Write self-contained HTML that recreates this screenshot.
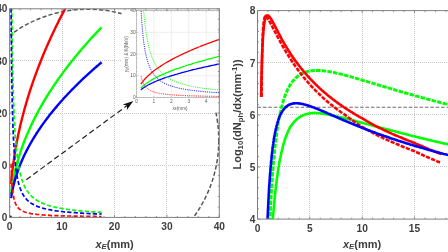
<!DOCTYPE html>
<html><head><meta charset="utf-8"><title>plot</title>
<style>html,body{margin:0;padding:0;background:#fff;overflow:hidden}svg{display:block}</style>
</head><body>
<svg width="448" height="252" viewBox="0 0 448 252">
<clipPath id="cl"><rect x="9.6" y="8.8" width="209.7" height="208.6"/></clipPath>
<path d="M62.5 9V217.4M10 165.5H219.3M114.5 9V217.4M10 113.5H219.3M166.5 9V217.4M10 60.5H219.3" stroke="#c8c8c8" stroke-width="1" stroke-dasharray="1 1" fill="none"/>
<g clip-path="url(#cl)" fill="none">
<circle cx="88" cy="140" r="130.8" stroke="#555" stroke-width="1.5" stroke-dasharray="4.2 2.2"/>
<path d="M11 184.1 L11.1 182.6 L11.3 181.1 L11.4 179.7 L11.5 178.3 L11.7 177 L11.8 175.8 L11.9 174.6 L12.1 173.4 L12.2 172.2 L12.3 171.1 L12.5 170 L12.6 168.9 L12.7 167.8 L12.9 166.8 L13 165.8 L13.1 164.8 L13.3 163.8 L13.4 162.9 L13.5 161.9 L13.7 161 L13.8 160.1 L13.9 159.2 L14.1 158.3 L14.2 157.4 L14.3 156.6 L14.4 155.7 L14.6 154.9 L14.7 154.1 L14.8 153.3 L15.9 146.9 L17 141 L18.1 135.5 L19.2 130.4 L20.3 125.6 L21.4 121 L22.5 116.7 L23.6 112.5 L24.7 108.4 L25.8 104.6 L26.9 100.8 L28 97.2 L29.1 93.6 L30.2 90.2 L31.3 86.8 L32.4 83.6 L33.5 80.4 L34.6 77.3 L35.7 74.3 L36.8 71.3 L37.9 68.4 L39 65.5 L40.1 62.7 L41.2 59.9 L42.3 57.2 L43.4 54.5 L44.5 51.9 L45.6 49.3 L46.7 46.8 L47.8 44.3 L48.9 41.8 L50 39.4 L51.1 37 L52.2 34.6 L53.3 32.2 L54.4 29.9 L55.5 27.6 L56.6 25.4 L57.7 23.2 L58.8 20.9 L59.9 18.8 L61 16.6 L62.1 14.5 L63.2 12.4 L64.3 10.3 L65.4 8.2 L66.5 6.1 L67.6 4.1 L68.7 2.1 L69.8 0.1 L70.9 -1.9 L72 -3.8 L73.1 -5.8 L74.2 -7.7 L75.3 -9.6 L76.4 -11.5 L77.5 -13.4 L78.5 -15.2 L79.6 -17.1 L80.7 -18.9 L81.8 -20.7 L82.9 -22.5 L84 -24.3 L85.1 -26.1 L86.2 -27.8 L87.3 -29.6 L88.4 -31.3 L89.5 -33.1 L90.6 -34.8 L91.7 -36.5 L92.8 -38.2 L93.9 -39.8 L95 -41.5 L96.1 -43.2 L97.2 -44.8 L98.3 -46.5 L99.4 -48.1 L100.5 -49.7 L101.6 -51.3" stroke="#ff0000" stroke-width="2.4" stroke-linecap="butt"/>
<path d="M11 193.8 L11.1 192.8 L11.3 191.7 L11.4 190.7 L11.5 189.8 L11.7 188.9 L11.8 188 L11.9 187.1 L12.1 186.2 L12.2 185.4 L12.3 184.6 L12.5 183.8 L12.6 183.1 L12.7 182.3 L12.9 181.6 L13 180.9 L13.1 180.2 L13.3 179.5 L13.4 178.8 L13.5 178.2 L13.7 177.5 L13.8 176.9 L13.9 176.2 L14.1 175.6 L14.2 175 L14.3 174.4 L14.4 173.8 L14.6 173.2 L14.7 172.6 L14.8 172 L15.9 167.5 L17 163.4 L18.1 159.5 L19.2 155.9 L20.3 152.5 L21.4 149.2 L22.5 146.1 L23.6 143.2 L24.7 140.3 L25.8 137.6 L26.9 134.9 L28 132.4 L29.1 129.9 L30.2 127.4 L31.3 125.1 L32.4 122.8 L33.5 120.5 L34.6 118.3 L35.7 116.1 L36.8 114 L37.9 112 L39 109.9 L40.1 108 L41.2 106 L42.3 104.1 L43.4 102.2 L44.5 100.3 L45.6 98.5 L46.7 96.7 L47.8 94.9 L48.9 93.2 L50 91.5 L51.1 89.8 L52.2 88.1 L53.3 86.4 L54.4 84.8 L55.5 83.2 L56.6 81.6 L57.7 80 L58.8 78.4 L59.9 76.9 L61 75.4 L62.1 73.9 L63.2 72.4 L64.3 70.9 L65.4 69.4 L66.5 68 L67.6 66.5 L68.7 65.1 L69.8 63.7 L70.9 62.3 L72 60.9 L73.1 59.6 L74.2 58.2 L75.3 56.8 L76.4 55.5 L77.5 54.2 L78.5 52.9 L79.6 51.6 L80.7 50.3 L81.8 49 L82.9 47.7 L84 46.4 L85.1 45.2 L86.2 43.9 L87.3 42.7 L88.4 41.5 L89.5 40.2 L90.6 39 L91.7 37.8 L92.8 36.6 L93.9 35.4 L95 34.3 L96.1 33.1 L97.2 31.9 L98.3 30.8 L99.4 29.6 L100.5 28.5 L101.6 27.3" stroke="#00ff00" stroke-width="2.4" stroke-linecap="butt"/>
<path d="M11 198.2 L11.1 197.3 L11.3 196.4 L11.4 195.6 L11.5 194.9 L11.7 194.1 L11.8 193.4 L11.9 192.7 L12.1 192 L12.2 191.3 L12.3 190.7 L12.5 190 L12.6 189.4 L12.7 188.8 L12.9 188.2 L13 187.6 L13.1 187 L13.3 186.5 L13.4 185.9 L13.5 185.4 L13.7 184.8 L13.8 184.3 L13.9 183.8 L14.1 183.3 L14.2 182.8 L14.3 182.3 L14.4 181.8 L14.6 181.3 L14.7 180.8 L14.8 180.4 L15.9 176.7 L17 173.3 L18.1 170.1 L19.2 167.2 L20.3 164.4 L21.4 161.8 L22.5 159.3 L23.6 156.8 L24.7 154.5 L25.8 152.3 L26.9 150.1 L28 148 L29.1 146 L30.2 144 L31.3 142 L32.4 140.2 L33.5 138.3 L34.6 136.5 L35.7 134.8 L36.8 133 L37.9 131.4 L39 129.7 L40.1 128.1 L41.2 126.5 L42.3 124.9 L43.4 123.4 L44.5 121.9 L45.6 120.4 L46.7 118.9 L47.8 117.5 L48.9 116 L50 114.6 L51.1 113.2 L52.2 111.9 L53.3 110.5 L54.4 109.2 L55.5 107.9 L56.6 106.6 L57.7 105.3 L58.8 104 L59.9 102.7 L61 101.5 L62.1 100.3 L63.2 99 L64.3 97.8 L65.4 96.6 L66.5 95.5 L67.6 94.3 L68.7 93.1 L69.8 92 L70.9 90.8 L72 89.7 L73.1 88.6 L74.2 87.5 L75.3 86.4 L76.4 85.3 L77.5 84.2 L78.5 83.1 L79.6 82.1 L80.7 81 L81.8 80 L82.9 78.9 L84 77.9 L85.1 76.9 L86.2 75.8 L87.3 74.8 L88.4 73.8 L89.5 72.8 L90.6 71.8 L91.7 70.9 L92.8 69.9 L93.9 68.9 L95 67.9 L96.1 67 L97.2 66 L98.3 65.1 L99.4 64.1 L100.5 63.2 L101.6 62.3" stroke="#0000ff" stroke-width="2.4" stroke-linecap="butt"/>
<path d="M11.1 163.7 L11.2 167.6 L11.4 170.9 L11.5 173.9 L11.6 176.5 L11.7 178.8 L11.8 180.8 L12 182.7 L12.1 184.4 L12.2 185.9 L12.3 187.3 L12.4 188.5 L12.6 189.7 L12.7 190.8 L12.8 191.8 L12.9 192.7 L13 193.5 L13.2 194.3 L13.3 195.1 L13.4 195.8 L13.5 196.5 L13.6 197.1 L13.8 197.7 L13.9 198.2 L14 198.7 L14.1 199.2 L14.2 199.7 L14.4 200.1 L14.5 200.6 L14.6 201 L14.7 201.3 L14.8 201.7 L14.9 202.1 L15.1 202.4 L15.2 202.7 L15.3 203 L15.4 203.3 L15.5 203.6 L15.7 203.9 L15.8 204.1 L15.9 204.4 L16 204.6 L16.1 204.9 L16.3 205.1 L16.4 205.3 L16.5 205.5 L16.6 205.7 L16.7 205.9 L16.9 206.1 L17 206.3 L17.1 206.5 L17.2 206.6 L17.3 206.8 L17.5 207 L17.6 207.1 L17.7 207.3 L17.8 207.4 L17.9 207.6 L18.1 207.7 L18.2 207.8 L18.3 208 L18.4 208.1 L18.5 208.2 L18.7 208.3 L18.8 208.5 L18.9 208.6 L19 208.7 L19.1 208.8 L19.2 208.9 L19.4 209 L19.5 209.1 L19.6 209.2 L19.7 209.3 L19.8 209.4 L20 209.5 L20.1 209.6 L21.5 210.5 L22.8 211.2 L24.2 211.8 L25.6 212.3 L27 212.7 L28.4 213 L29.8 213.3 L31.1 213.6 L32.5 213.8 L33.9 214 L35.3 214.2 L36.7 214.4 L38 214.5 L39.4 214.7 L40.8 214.8 L42.2 214.9 L43.6 215 L45 215.1 L46.3 215.2 L47.7 215.2 L49.1 215.3 L50.5 215.4 L51.9 215.5 L53.3 215.5 L54.6 215.6 L56 215.6 L57.4 215.7 L58.8 215.7 L60.2 215.8 L61.5 215.8 L62.9 215.9 L64.3 215.9 L65.7 215.9 L67.1 216 L68.5 216 L69.8 216 L71.2 216.1 L72.6 216.1 L74 216.1 L75.4 216.2 L76.7 216.2 L78.1 216.2 L79.5 216.2 L80.9 216.2 L82.3 216.3 L83.7 216.3 L85 216.3 L86.4 216.3 L87.8 216.4 L89.2 216.4 L90.6 216.4 L91.9 216.4 L93.3 216.4 L94.7 216.4 L96.1 216.5 L97.5 216.5 L98.9 216.5 L100.2 216.5 L101.6 216.5" stroke="#ff0000" stroke-width="1.7" stroke-dasharray="4.2 2.2"/>
<path d="M10.6 -95.5 L10.8 -95.5 L10.9 -95.5 L11 -95.5 L11.1 -87.1 L11.2 -65 L11.4 -45.9 L11.5 -29.2 L11.6 -14.5 L11.7 -1.5 L11.8 10.2 L12 20.7 L12.1 30.1 L12.2 38.7 L12.3 46.6 L12.4 53.8 L12.6 60.4 L12.7 66.5 L12.8 72.1 L12.9 77.3 L13 82.2 L13.2 86.7 L13.3 91 L13.4 95 L13.5 98.7 L13.6 102.2 L13.8 105.5 L13.9 108.6 L14 111.6 L14.1 114.4 L14.2 117.1 L14.4 119.6 L14.5 122 L14.6 124.3 L14.7 126.4 L14.8 128.5 L14.9 130.5 L15.1 132.4 L15.2 134.2 L15.3 136 L15.4 137.6 L15.5 139.2 L15.7 140.8 L15.8 142.3 L15.9 143.7 L16 145 L16.1 146.4 L16.3 147.6 L16.4 148.9 L16.5 150.1 L16.6 151.2 L16.7 152.3 L16.9 153.4 L17 154.4 L17.1 155.4 L17.2 156.4 L17.3 157.3 L17.5 158.2 L17.6 159.1 L17.7 160 L17.8 160.8 L17.9 161.6 L18.1 162.4 L18.2 163.2 L18.3 163.9 L18.4 164.7 L18.5 165.4 L18.7 166.1 L18.8 166.7 L18.9 167.4 L19 168 L19.1 168.6 L19.2 169.2 L19.4 169.8 L19.5 170.4 L19.6 171 L19.7 171.5 L19.8 172 L20 172.6 L20.1 173.1 L21.5 178.2 L22.8 182.3 L24.2 185.6 L25.6 188.4 L27 190.7 L28.4 192.6 L29.8 194.3 L31.1 195.8 L32.5 197.1 L33.9 198.3 L35.3 199.3 L36.7 200.2 L38 201.1 L39.4 201.8 L40.8 202.5 L42.2 203.1 L43.6 203.7 L45 204.3 L46.3 204.7 L47.7 205.2 L49.1 205.6 L50.5 206 L51.9 206.4 L53.3 206.8 L54.6 207.1 L56 207.4 L57.4 207.7 L58.8 207.9 L60.2 208.2 L61.5 208.5 L62.9 208.7 L64.3 208.9 L65.7 209.1 L67.1 209.3 L68.5 209.5 L69.8 209.7 L71.2 209.9 L72.6 210 L74 210.2 L75.4 210.3 L76.7 210.5 L78.1 210.6 L79.5 210.8 L80.9 210.9 L82.3 211 L83.7 211.1 L85 211.2 L86.4 211.3 L87.8 211.5 L89.2 211.6 L90.6 211.7 L91.9 211.8 L93.3 211.8 L94.7 211.9 L96.1 212 L97.5 212.1 L98.9 212.2 L100.2 212.3 L101.6 212.3" stroke="#00ff00" stroke-width="1.7" stroke-dasharray="4.2 2.2"/>
<path d="M10.6 -74.6 L10.8 -44.8 L10.9 -20.4 L11 -0.3 L11.1 16.8 L11.2 31.3 L11.4 43.9 L11.5 54.9 L11.6 64.6 L11.7 73.2 L11.8 80.9 L12 87.8 L12.1 94 L12.2 99.7 L12.3 104.9 L12.4 109.6 L12.6 113.9 L12.7 118 L12.8 121.7 L12.9 125.1 L13 128.3 L13.2 131.3 L13.3 134.1 L13.4 136.7 L13.5 139.2 L13.6 141.5 L13.8 143.7 L13.9 145.8 L14 147.7 L14.1 149.5 L14.2 151.3 L14.4 153 L14.5 154.5 L14.6 156 L14.7 157.5 L14.8 158.8 L14.9 160.2 L15.1 161.4 L15.2 162.6 L15.3 163.7 L15.4 164.8 L15.5 165.9 L15.7 166.9 L15.8 167.9 L15.9 168.8 L16 169.7 L16.1 170.6 L16.3 171.4 L16.4 172.3 L16.5 173 L16.6 173.8 L16.7 174.5 L16.9 175.2 L17 175.9 L17.1 176.6 L17.2 177.2 L17.3 177.8 L17.5 178.4 L17.6 179 L17.7 179.6 L17.8 180.1 L17.9 180.7 L18.1 181.2 L18.2 181.7 L18.3 182.2 L18.4 182.7 L18.5 183.1 L18.7 183.6 L18.8 184 L18.9 184.4 L19 184.9 L19.1 185.3 L19.2 185.7 L19.4 186.1 L19.5 186.4 L19.6 186.8 L19.7 187.2 L19.8 187.5 L20 187.9 L20.1 188.2 L21.5 191.6 L22.8 194.3 L24.2 196.5 L25.6 198.3 L27 199.8 L28.4 201.1 L29.8 202.2 L31.1 203.2 L32.5 204 L33.9 204.8 L35.3 205.5 L36.7 206.1 L38 206.6 L39.4 207.1 L40.8 207.6 L42.2 208 L43.6 208.4 L45 208.7 L46.3 209.1 L47.7 209.4 L49.1 209.6 L50.5 209.9 L51.9 210.2 L53.3 210.4 L54.6 210.6 L56 210.8 L57.4 211 L58.8 211.2 L60.2 211.3 L61.5 211.5 L62.9 211.7 L64.3 211.8 L65.7 211.9 L67.1 212.1 L68.5 212.2 L69.8 212.3 L71.2 212.4 L72.6 212.5 L74 212.6 L75.4 212.7 L76.7 212.8 L78.1 212.9 L79.5 213 L80.9 213.1 L82.3 213.2 L83.7 213.3 L85 213.3 L86.4 213.4 L87.8 213.5 L89.2 213.6 L90.6 213.6 L91.9 213.7 L93.3 213.7 L94.7 213.8 L96.1 213.9 L97.5 213.9 L98.9 214 L100.2 214 L101.6 214.1" stroke="#0000ff" stroke-width="1.7" stroke-dasharray="4.2 2.2"/>
</g>
<circle cx="10.7" cy="216.5" r="1.1" fill="#111"/>
<text x="9.6" y="230.4" text-anchor="middle" font-family="Liberation Sans, Arial, sans-serif" font-size="10.2" font-weight="bold" fill="#3d3d3d">0</text>
<text x="1.7" y="221" font-family="Liberation Sans, Arial, sans-serif" font-size="10" font-weight="bold" fill="#3d3d3d">0</text>
<text x="62" y="230.4" text-anchor="middle" font-family="Liberation Sans, Arial, sans-serif" font-size="10.2" font-weight="bold" fill="#3d3d3d">10</text>
<text x="-6.5" y="168.8" font-family="Liberation Sans, Arial, sans-serif" font-size="10" font-weight="bold" fill="#3d3d3d">1<tspan x="1.7">0</tspan></text>
<text x="114.5" y="230.4" text-anchor="middle" font-family="Liberation Sans, Arial, sans-serif" font-size="10.2" font-weight="bold" fill="#3d3d3d">20</text>
<text x="-3.86" y="116.7" font-family="Liberation Sans, Arial, sans-serif" font-size="10" font-weight="bold" fill="#3d3d3d">2<tspan x="1.7">0</tspan></text>
<text x="166.9" y="230.4" text-anchor="middle" font-family="Liberation Sans, Arial, sans-serif" font-size="10.2" font-weight="bold" fill="#3d3d3d">30</text>
<text x="-3.86" y="64.6" font-family="Liberation Sans, Arial, sans-serif" font-size="10" font-weight="bold" fill="#3d3d3d">3<tspan x="1.7">0</tspan></text>
<text x="219.3" y="230.4" text-anchor="middle" font-family="Liberation Sans, Arial, sans-serif" font-size="10.2" font-weight="bold" fill="#3d3d3d">40</text>
<text x="-3.86" y="12.4" font-family="Liberation Sans, Arial, sans-serif" font-size="10" font-weight="bold" fill="#3d3d3d">4<tspan x="1.7">0</tspan></text>
<text x="114.6" y="247.6" text-anchor="middle" font-family="Liberation Sans, Arial, sans-serif" font-size="11" font-weight="bold" fill="#3d3d3d"><tspan font-style="italic">x</tspan><tspan font-style="italic" font-size="7.8" dy="1.6">E</tspan><tspan dy="-1.6">(mm)</tspan></text>
<rect x="121.5" y="9.9" width="98.7" height="102.7" fill="#fff"/>
<clipPath id="ci"><rect x="136.5" y="10.6" width="83.1" height="87"/></clipPath>
<path d="M153.9 10.6V97.6M171.3 10.6V97.6M188.8 10.6V97.6M206.2 10.6V97.6M136.5 75.8H219.6M136.5 54.1H219.6M136.5 32.3H219.6" stroke="#e3e3e3" stroke-width="0.6" fill="none"/>
<g clip-path="url(#ci)" fill="none">
<path d="M140.9 84.2 L141.3 83.5 L141.8 82.9 L142.2 82.3 L142.7 81.7 L143.1 81.1 L143.6 80.6 L144 80 L144.5 79.5 L144.9 79 L145.4 78.5 L145.8 78 L146.3 77.6 L146.7 77.1 L147.2 76.7 L147.6 76.2 L148.1 75.8 L148.5 75.4 L149 75 L149.4 74.6 L149.9 74.2 L150.3 73.8 L150.8 73.4 L151.2 73 L151.7 72.6 L152.1 72.3 L152.6 71.9 L153 71.5 L153.5 71.2 L153.9 70.8 L155.3 69.8 L156.6 68.8 L158 67.9 L159.4 67 L160.7 66.1 L162.1 65.2 L163.4 64.3 L164.8 63.5 L166.1 62.7 L167.5 61.9 L168.9 61.1 L170.2 60.4 L171.6 59.6 L172.9 58.9 L174.3 58.2 L175.7 57.5 L177 56.8 L178.4 56.1 L179.7 55.5 L181.1 54.8 L182.4 54.2 L183.8 53.5 L185.2 52.9 L186.5 52.3 L187.9 51.7 L189.2 51.1 L190.6 50.5 L191.9 49.9 L193.3 49.3 L194.7 48.7 L196 48.1 L197.4 47.6 L198.7 47 L200.1 46.5 L201.5 45.9 L202.8 45.4 L204.2 44.9 L205.5 44.3 L206.9 43.8 L208.2 43.3 L209.6 42.8 L211 42.3 L212.3 41.8 L213.7 41.3 L215 40.8 L216.4 40.3 L217.8 39.8 L219.1 39.3 L220.5 38.9" stroke="#ff0000" stroke-width="1.3"/>
<path d="M140.9 88.1 L141.3 87.7 L141.8 87.2 L142.2 86.8 L142.7 86.4 L143.1 85.9 L143.6 85.6 L144 85.2 L144.5 84.8 L144.9 84.5 L145.4 84.1 L145.8 83.8 L146.3 83.4 L146.7 83.1 L147.2 82.8 L147.6 82.5 L148.1 82.2 L148.5 81.9 L149 81.6 L149.4 81.3 L149.9 81 L150.3 80.7 L150.8 80.5 L151.2 80.2 L151.7 79.9 L152.1 79.7 L152.6 79.4 L153 79.2 L153.5 78.9 L153.9 78.7 L155.3 78 L156.6 77.3 L158 76.6 L159.4 75.9 L160.7 75.3 L162.1 74.7 L163.4 74.1 L164.8 73.5 L166.1 72.9 L167.5 72.4 L168.9 71.8 L170.2 71.3 L171.6 70.7 L172.9 70.2 L174.3 69.7 L175.7 69.2 L177 68.7 L178.4 68.3 L179.7 67.8 L181.1 67.3 L182.4 66.9 L183.8 66.4 L185.2 66 L186.5 65.5 L187.9 65.1 L189.2 64.7 L190.6 64.3 L191.9 63.8 L193.3 63.4 L194.7 63 L196 62.6 L197.4 62.2 L198.7 61.8 L200.1 61.4 L201.5 61.1 L202.8 60.7 L204.2 60.3 L205.5 59.9 L206.9 59.6 L208.2 59.2 L209.6 58.8 L211 58.5 L212.3 58.1 L213.7 57.8 L215 57.4 L216.4 57.1 L217.8 56.7 L219.1 56.4 L220.5 56.1" stroke="#00ff00" stroke-width="1.3"/>
<path d="M140.9 89.9 L141.3 89.5 L141.8 89.1 L142.2 88.8 L142.7 88.4 L143.1 88.1 L143.6 87.8 L144 87.5 L144.5 87.2 L144.9 86.9 L145.4 86.6 L145.8 86.3 L146.3 86 L146.7 85.8 L147.2 85.5 L147.6 85.3 L148.1 85 L148.5 84.8 L149 84.5 L149.4 84.3 L149.9 84.1 L150.3 83.8 L150.8 83.6 L151.2 83.4 L151.7 83.2 L152.1 83 L152.6 82.8 L153 82.6 L153.5 82.4 L153.9 82.2 L155.3 81.6 L156.6 81 L158 80.4 L159.4 79.9 L160.7 79.4 L162.1 78.9 L163.4 78.4 L164.8 77.9 L166.1 77.5 L167.5 77 L168.9 76.6 L170.2 76.1 L171.6 75.7 L172.9 75.3 L174.3 74.9 L175.7 74.4 L177 74.1 L178.4 73.7 L179.7 73.3 L181.1 72.9 L182.4 72.5 L183.8 72.2 L185.2 71.8 L186.5 71.4 L187.9 71.1 L189.2 70.7 L190.6 70.4 L191.9 70 L193.3 69.7 L194.7 69.4 L196 69.1 L197.4 68.7 L198.7 68.4 L200.1 68.1 L201.5 67.8 L202.8 67.5 L204.2 67.2 L205.5 66.9 L206.9 66.6 L208.2 66.3 L209.6 66 L211 65.7 L212.3 65.4 L213.7 65.1 L215 64.8 L216.4 64.5 L217.8 64.2 L219.1 64 L220.5 63.7" stroke="#0000ff" stroke-width="1.3"/>
<path d="M141.1 76.3 L141.4 77.6 L141.7 78.7 L142 79.7 L142.3 80.5 L142.6 81.4 L142.9 82.1 L143.1 82.8 L143.4 83.4 L143.7 83.9 L144 84.5 L144.3 84.9 L144.6 85.4 L144.9 85.8 L145.1 86.2 L145.4 86.6 L145.7 86.9 L146 87.2 L146.3 87.5 L146.6 87.8 L146.9 88.1 L147.2 88.4 L147.4 88.6 L147.7 88.8 L148 89 L148.3 89.2 L148.6 89.4 L148.9 89.6 L149.2 89.8 L149.4 90 L149.7 90.2 L150 90.3 L150.3 90.5 L150.6 90.6 L150.9 90.7 L151.2 90.9 L151.5 91 L151.7 91.1 L152 91.3 L152.3 91.4 L152.6 91.5 L152.9 91.6 L153.2 91.7 L153.5 91.8 L153.7 91.9 L154 92 L154.3 92.1 L154.6 92.2 L154.9 92.2 L155.2 92.3 L155.5 92.4 L155.8 92.5 L156 92.6 L156.3 92.6 L156.6 92.7 L156.9 92.8 L157.2 92.8 L157.5 92.9 L157.8 93 L158 93 L158.3 93.1 L158.6 93.1 L158.9 93.2 L159.2 93.3 L159.5 93.3 L159.8 93.4 L160.1 93.4 L160.3 93.5 L160.6 93.5 L160.9 93.6 L161.2 93.6 L161.5 93.7 L161.8 93.7 L162.1 93.7 L162.3 93.8 L162.6 93.8 L164.1 94 L165.6 94.2 L167.1 94.4 L168.6 94.5 L170 94.7 L171.5 94.8 L173 94.9 L174.5 95 L176 95.1 L177.5 95.2 L178.9 95.3 L180.4 95.4 L181.9 95.4 L183.4 95.5 L184.9 95.6 L186.4 95.6 L187.8 95.7 L189.3 95.7 L190.8 95.8 L192.3 95.8 L193.8 95.9 L195.3 95.9 L196.7 96 L198.2 96 L199.7 96 L201.2 96.1 L202.7 96.1 L204.2 96.1 L205.6 96.2 L207.1 96.2 L208.6 96.2 L210.1 96.3 L211.6 96.3 L213.1 96.3 L214.5 96.3 L216 96.4 L217.5 96.4 L219 96.4 L220.5 96.4" stroke="#ff0000" stroke-width="0.9" stroke-dasharray="1.1 1.1"/>
<path d="M141.4 -29.5 L141.7 -22.5 L142 -16.3 L142.3 -10.6 L142.6 -5.5 L142.9 -0.8 L143.1 3.4 L143.4 7.3 L143.7 10.9 L144 14.2 L144.3 17.3 L144.6 20.1 L144.9 22.8 L145.1 25.3 L145.4 27.6 L145.7 29.8 L146 31.8 L146.3 33.7 L146.6 35.6 L146.9 37.3 L147.2 38.9 L147.4 40.4 L147.7 41.9 L148 43.3 L148.3 44.6 L148.6 45.9 L148.9 47.1 L149.2 48.2 L149.4 49.3 L149.7 50.3 L150 51.4 L150.3 52.3 L150.6 53.2 L150.9 54.1 L151.2 55 L151.5 55.8 L151.7 56.6 L152 57.3 L152.3 58.1 L152.6 58.8 L152.9 59.4 L153.2 60.1 L153.5 60.7 L153.7 61.3 L154 61.9 L154.3 62.5 L154.6 63.1 L154.9 63.6 L155.2 64.1 L155.5 64.6 L155.8 65.1 L156 65.6 L156.3 66.1 L156.6 66.5 L156.9 67 L157.2 67.4 L157.5 67.8 L157.8 68.2 L158 68.6 L158.3 69 L158.6 69.3 L158.9 69.7 L159.2 70 L159.5 70.4 L159.8 70.7 L160.1 71.1 L160.3 71.4 L160.6 71.7 L160.9 72 L161.2 72.3 L161.5 72.6 L161.8 72.9 L162.1 73.1 L162.3 73.4 L162.6 73.7 L164.1 75 L165.6 76.1 L167.1 77.2 L168.6 78.1 L170 79 L171.5 79.8 L173 80.5 L174.5 81.1 L176 81.8 L177.5 82.3 L178.9 82.9 L180.4 83.4 L181.9 83.8 L183.4 84.3 L184.9 84.7 L186.4 85.1 L187.8 85.4 L189.3 85.8 L190.8 86.1 L192.3 86.4 L193.8 86.7 L195.3 87 L196.7 87.2 L198.2 87.5 L199.7 87.7 L201.2 87.9 L202.7 88.2 L204.2 88.4 L205.6 88.6 L207.1 88.7 L208.6 88.9 L210.1 89.1 L211.6 89.3 L213.1 89.4 L214.5 89.6 L216 89.7 L217.5 89.9 L219 90 L220.5 90.2" stroke="#00ff00" stroke-width="0.9" stroke-dasharray="1.1 1.1"/>
<path d="M141.1 10.9 L141.4 15.9 L141.7 20.4 L142 24.5 L142.3 28.1 L142.6 31.4 L142.9 34.4 L143.1 37.1 L143.4 39.6 L143.7 41.9 L144 44 L144.3 46 L144.6 47.8 L144.9 49.5 L145.1 51.1 L145.4 52.6 L145.7 54 L146 55.3 L146.3 56.6 L146.6 57.7 L146.9 58.8 L147.2 59.9 L147.4 60.9 L147.7 61.8 L148 62.7 L148.3 63.6 L148.6 64.4 L148.9 65.1 L149.2 65.9 L149.4 66.6 L149.7 67.2 L150 67.9 L150.3 68.5 L150.6 69.1 L150.9 69.7 L151.2 70.2 L151.5 70.7 L151.7 71.2 L152 71.7 L152.3 72.2 L152.6 72.7 L152.9 73.1 L153.2 73.5 L153.5 73.9 L153.7 74.3 L154 74.7 L154.3 75.1 L154.6 75.4 L154.9 75.8 L155.2 76.1 L155.5 76.4 L155.8 76.7 L156 77 L156.3 77.3 L156.6 77.6 L156.9 77.9 L157.2 78.2 L157.5 78.4 L157.8 78.7 L158 79 L158.3 79.2 L158.6 79.4 L158.9 79.7 L159.2 79.9 L159.5 80.1 L159.8 80.3 L160.1 80.5 L160.3 80.8 L160.6 81 L160.9 81.1 L161.2 81.3 L161.5 81.5 L161.8 81.7 L162.1 81.9 L162.3 82.1 L162.6 82.2 L164.1 83.1 L165.6 83.8 L167.1 84.5 L168.6 85.1 L170 85.6 L171.5 86.1 L173 86.6 L174.5 87 L176 87.4 L177.5 87.8 L178.9 88.1 L180.4 88.5 L181.9 88.8 L183.4 89 L184.9 89.3 L186.4 89.5 L187.8 89.8 L189.3 90 L190.8 90.2 L192.3 90.4 L193.8 90.6 L195.3 90.8 L196.7 90.9 L198.2 91.1 L199.7 91.2 L201.2 91.4 L202.7 91.5 L204.2 91.7 L205.6 91.8 L207.1 91.9 L208.6 92 L210.1 92.1 L211.6 92.3 L213.1 92.4 L214.5 92.5 L216 92.5 L217.5 92.6 L219 92.7 L220.5 92.8" stroke="#0000ff" stroke-width="0.9" stroke-dasharray="1.1 1.1"/>
</g>
<path d="M136.5 97.6v-1.4M136.5 10.6v1.4M140 97.6v-0.8M140 10.6v0.8M143.5 97.6v-0.8M143.5 10.6v0.8M147 97.6v-0.8M147 10.6v0.8M150.4 97.6v-0.8M150.4 10.6v0.8M153.9 97.6v-1.4M153.9 10.6v1.4M157.4 97.6v-0.8M157.4 10.6v0.8M160.9 97.6v-0.8M160.9 10.6v0.8M164.4 97.6v-0.8M164.4 10.6v0.8M167.9 97.6v-0.8M167.9 10.6v0.8M171.3 97.6v-1.4M171.3 10.6v1.4M174.8 97.6v-0.8M174.8 10.6v0.8M178.3 97.6v-0.8M178.3 10.6v0.8M181.8 97.6v-0.8M181.8 10.6v0.8M185.3 97.6v-0.8M185.3 10.6v0.8M188.8 97.6v-1.4M188.8 10.6v1.4M192.2 97.6v-0.8M192.2 10.6v0.8M195.7 97.6v-0.8M195.7 10.6v0.8M199.2 97.6v-0.8M199.2 10.6v0.8M202.7 97.6v-0.8M202.7 10.6v0.8M206.2 97.6v-1.4M206.2 10.6v1.4M209.7 97.6v-0.8M209.7 10.6v0.8M213.1 97.6v-0.8M213.1 10.6v0.8M216.6 97.6v-0.8M216.6 10.6v0.8M136.5 97.6h1.4M219.6 97.6h-1.4M136.5 93.2h0.8M219.6 93.2h-0.8M136.5 88.9h0.8M219.6 88.9h-0.8M136.5 84.5h0.8M219.6 84.5h-0.8M136.5 80.2h0.8M219.6 80.2h-0.8M136.5 75.8h1.4M219.6 75.8h-1.4M136.5 71.5h0.8M219.6 71.5h-0.8M136.5 67.2h0.8M219.6 67.2h-0.8M136.5 62.8h0.8M219.6 62.8h-0.8M136.5 58.4h0.8M219.6 58.4h-0.8M136.5 54.1h1.4M219.6 54.1h-1.4M136.5 49.8h0.8M219.6 49.8h-0.8M136.5 45.4h0.8M219.6 45.4h-0.8M136.5 41h0.8M219.6 41h-0.8M136.5 36.7h0.8M219.6 36.7h-0.8M136.5 32.3h1.4M219.6 32.3h-1.4M136.5 28h0.8M219.6 28h-0.8M136.5 23.7h0.8M219.6 23.7h-0.8M136.5 19.3h0.8M219.6 19.3h-0.8M136.5 15h0.8M219.6 15h-0.8M136.5 10.6h1.4M219.6 10.6h-1.4" stroke="#8a8a8a" stroke-width="0.5" fill="none"/>
<rect x="136.5" y="10.6" width="83.1" height="87" fill="none" stroke="#9a9a9a" stroke-width="0.6"/>
<text x="136.5" y="102.8" text-anchor="middle" font-family="Liberation Sans, Arial, sans-serif" font-size="4.8" fill="#5a5a5a">0</text>
<text x="153.9" y="102.8" text-anchor="middle" font-family="Liberation Sans, Arial, sans-serif" font-size="4.8" fill="#5a5a5a">1</text>
<text x="171.3" y="102.8" text-anchor="middle" font-family="Liberation Sans, Arial, sans-serif" font-size="4.8" fill="#5a5a5a">2</text>
<text x="188.8" y="102.8" text-anchor="middle" font-family="Liberation Sans, Arial, sans-serif" font-size="4.8" fill="#5a5a5a">3</text>
<text x="206.2" y="102.8" text-anchor="middle" font-family="Liberation Sans, Arial, sans-serif" font-size="4.8" fill="#5a5a5a">4</text>
<text x="135.6" y="99.2" text-anchor="end" font-family="Liberation Sans, Arial, sans-serif" font-size="4.8" fill="#5a5a5a">0</text>
<text x="135.6" y="77.4" text-anchor="end" font-family="Liberation Sans, Arial, sans-serif" font-size="4.8" fill="#5a5a5a">10</text>
<text x="135.6" y="55.7" text-anchor="end" font-family="Liberation Sans, Arial, sans-serif" font-size="4.8" fill="#5a5a5a">20</text>
<text x="135.6" y="33.9" text-anchor="end" font-family="Liberation Sans, Arial, sans-serif" font-size="4.8" fill="#5a5a5a">30</text>
<text x="135.6" y="12.2" text-anchor="end" font-family="Liberation Sans, Arial, sans-serif" font-size="4.8" fill="#5a5a5a">40</text>
<text x="180" y="109.7" text-anchor="middle" font-family="Liberation Sans, Arial, sans-serif" font-size="4.6" fill="#5a5a5a"><tspan font-style="italic">x</tspan><tspan font-style="italic" font-size="3" dy="0.6">E</tspan><tspan dy="-0.6">(mm)</tspan></text>
<text transform="translate(128.3,54) rotate(-90)" text-anchor="middle" font-family="Liberation Sans, Arial, sans-serif" font-size="4.6" fill="#5a5a5a"><tspan font-style="italic">y</tspan><tspan font-style="italic" font-size="3" dy="0.6">E</tspan><tspan dy="-0.6">(mm) &amp; K(MeV)</tspan></text>
<path d="M9.6 217.4v-2.6M9.6 8.8v2.6M9.6 217.4h2.6M219.3 217.4h-2.6M20.1 217.4v-1.5M20.1 8.8v1.5M9.6 207h1.5M219.3 207h-1.5M30.6 217.4v-1.5M30.6 8.8v1.5M9.6 196.5h1.5M219.3 196.5h-1.5M41.1 217.4v-1.5M41.1 8.8v1.5M9.6 186.1h1.5M219.3 186.1h-1.5M51.5 217.4v-1.5M51.5 8.8v1.5M9.6 175.7h1.5M219.3 175.7h-1.5M62 217.4v-2.6M62 8.8v2.6M9.6 165.2h2.6M219.3 165.2h-2.6M72.5 217.4v-1.5M72.5 8.8v1.5M9.6 154.8h1.5M219.3 154.8h-1.5M83 217.4v-1.5M83 8.8v1.5M9.6 144.4h1.5M219.3 144.4h-1.5M93.5 217.4v-1.5M93.5 8.8v1.5M9.6 134h1.5M219.3 134h-1.5M104 217.4v-1.5M104 8.8v1.5M9.6 123.5h1.5M219.3 123.5h-1.5M114.5 217.4v-2.6M114.5 8.8v2.6M9.6 113.1h2.6M219.3 113.1h-2.6M124.9 217.4v-1.5M124.9 8.8v1.5M9.6 102.7h1.5M219.3 102.7h-1.5M135.4 217.4v-1.5M135.4 8.8v1.5M9.6 92.2h1.5M219.3 92.2h-1.5M145.9 217.4v-1.5M145.9 8.8v1.5M9.6 81.8h1.5M219.3 81.8h-1.5M156.4 217.4v-1.5M156.4 8.8v1.5M9.6 71.4h1.5M219.3 71.4h-1.5M166.9 217.4v-2.6M166.9 8.8v2.6M9.6 61h2.6M219.3 61h-2.6M177.4 217.4v-1.5M177.4 8.8v1.5M9.6 50.5h1.5M219.3 50.5h-1.5M187.9 217.4v-1.5M187.9 8.8v1.5M9.6 40.1h1.5M219.3 40.1h-1.5M198.3 217.4v-1.5M198.3 8.8v1.5M9.6 29.7h1.5M219.3 29.7h-1.5M208.8 217.4v-1.5M208.8 8.8v1.5M9.6 19.2h1.5M219.3 19.2h-1.5M219.3 217.4v-2.6M219.3 8.8v2.6M9.6 8.8h2.6M219.3 8.8h-2.6" stroke="#7f7f7f" stroke-width="0.8" fill="none"/>
<rect x="9.6" y="8.8" width="209.7" height="208.6" fill="none" stroke="#7f7f7f" stroke-width="1"/>
<path d="M26.3 179.7L128.3 104.7" stroke="#1c1c1c" stroke-width="1.15" stroke-dasharray="5.5 3.2" fill="none"/>
<path d="M133.3 100.9 L122.7 104.4 L127 105.6 L126.9 110Z" fill="#111"/>
<clipPath id="cr"><rect x="257.5" y="10.6" width="220" height="208.5"/></clipPath>
<path d="M309.5 11V219.1M362.5 11V219.1M414.5 11V219.1M258 166.5H470M258 114.5H470M258 62.5H470" stroke="#c8c8c8" stroke-width="1" stroke-dasharray="1 1" fill="none"/>
<g clip-path="url(#cr)" fill="none">
<path d="M257.5 107.3H470" stroke="#6e6e6e" stroke-width="1.1" stroke-dasharray="3.6 1.8"/>
<path d="M272.6 222.8 L272.7 220.8 L272.8 218.9 L273 217 L273.1 215.1 L273.3 213.3 L273.5 211.4 L273.6 209.6 L273.8 207.9 L273.9 206.1 L274.1 204.4 L274.3 202.6 L274.4 201 L274.6 199.3 L274.7 197.6 L274.9 196 L275.1 194.4 L275.2 192.8 L275.4 191.3 L275.6 189.7 L275.8 188.2 L275.9 186.7 L276.1 185.2 L276.3 183.8 L276.5 182.3 L276.6 180.9 L276.8 179.5 L277 178.2 L277.2 176.8 L277.4 175.5 L277.6 174.1 L277.7 172.8 L277.9 171.5 L278.1 170.3 L278.3 169 L278.5 167.8 L278.7 166.6 L278.9 165.4 L279.1 164.2 L279.3 163.1 L279.5 161.9 L279.7 160.8 L279.9 159.7 L280.1 158.6 L280.4 157.5 L280.6 156.5 L280.8 155.4 L281 154.4 L281.2 153.4 L281.5 152.4 L281.7 151.4 L281.9 150.5 L282.1 149.5 L282.4 148.6 L282.6 147.7 L282.8 146.8 L283.1 145.9 L283.3 145 L283.5 144.1 L283.8 143.3 L284 142.5 L284.3 141.6 L284.5 140.8 L284.8 140.1 L285 139.3 L285.3 138.5 L285.5 137.8 L285.8 137 L286.1 136.3 L286.3 135.6 L286.6 134.9 L286.9 134.2 L287.1 133.6 L287.4 132.9 L287.7 132.3 L287.9 131.6 L288.2 131 L288.5 130.4 L288.8 129.8 L289.1 129.2 L289.4 128.6 L289.6 128.1 L289.9 127.5 L290.2 127 L290.5 126.5 L289.7 128.1 L290 127.6 L290.3 127.1 L290.6 126.6 L290.9 126.1 L291.3 125.7 L291.6 125.2 L291.9 124.7 L292.2 124.3 L292.5 123.9 L292.8 123.5 L293.2 123 L293.5 122.6 L293.8 122.2 L294.2 121.9 L294.5 121.5 L294.8 121.1 L295.2 120.8 L295.5 120.4 L295.9 120.1 L296.2 119.8 L296.6 119.4 L297 119.1 L297.3 118.8 L297.7 118.5 L298.1 118.2 L298.4 118 L298.8 117.7 L299.2 117.4 L299.6 117.2 L300 116.9 L300.4 116.7 L300.7 116.5 L301.1 116.3 L301.5 116 L302 115.8 L302.4 115.6 L302.8 115.4 L303.2 115.3 L303.6 115.1 L304 114.9 L304.5 114.8 L304.9 114.6 L305.3 114.5 L305.8 114.3 L306.2 114.2 L306.7 114.1 L307.1 113.9 L307.6 113.8 L308.1 113.7 L308.5 113.6 L309 113.5 L309.5 113.5 L309.9 113.4 L310.4 113.3 L310.9 113.2 L311.4 113.2 L311.9 113.1 L312.4 113.1 L312.9 113 L313.4 113 L313.9 113 L314.5 112.9 L315 112.9 L315.5 112.9 L316.1 113 L316.6 113 L317.1 113 L317.7 113.1 L318.2 113.1 L318.8 113.2 L319.4 113.2 L319.9 113.3 L320.5 113.4 L321.1 113.4 L321.7 113.5 L322.3 113.6 L322.9 113.7 L323.5 113.8 L324.1 113.9 L324.7 114 L325.3 114.1 L325.9 114.2 L326.6 114.3 L327.2 114.4 L327.9 114.6 L328.5 114.7 L329.2 114.8 L329.8 115 L330.5 115.1 L331.2 115.2 L331.8 115.4 L332.5 115.5 L333.2 115.6 L333.9 115.8 L334.6 115.9 L335.3 116.1 L336 116.2 L336.8 116.4 L337.5 116.5 L338.2 116.7 L339 116.9 L339.7 117 L340.5 117.2 L341.3 117.4 L342 117.6 L342.8 117.8 L343.6 118 L344.4 118.2 L345.2 118.3 L346 118.5 L346.8 118.7 L347.6 119 L348.5 119.2 L349.3 119.4 L350.2 119.6 L351 119.8 L351.9 120 L352.8 120.2 L353.6 120.5 L354.5 120.7 L355.4 120.9 L356.3 121.2 L357.2 121.4 L358.1 121.7 L359.1 121.9 L360 122.2 L361 122.4 L361.9 122.7 L362.9 122.9 L363.8 123.2 L364.8 123.5 L365.8 123.7 L366.8 124 L367.8 124.3 L368.8 124.5 L369.9 124.8 L370.9 125.1 L372 125.4 L373 125.6 L374.1 125.9 L375.2 126.2 L376.2 126.5 L377.3 126.8 L378.4 127.1 L379.6 127.4 L380.7 127.7 L381.8 128 L383 128.3 L384.1 128.6 L385.3 128.9 L386.5 129.2 L387.7 129.5 L388.9 129.8 L390.1 130.1 L391.3 130.4 L392.5 130.7 L393.8 131 L395 131.3 L396.3 131.7 L397.6 132 L398.9 132.4 L400.2 132.7 L401.5 133.1 L402.8 133.4 L404.2 133.8 L405.5 134.1 L406.9 134.5 L408.3 134.8 L409.6 135.2 L411 135.5 L412.5 135.9 L413.9 136.2 L415.3 136.6 L416.8 137 L418.3 137.3 L419.7 137.7 L421.2 138.1 L422.7 138.4 L424.3 138.8 L425.8 139.2 L427.4 139.6 L428.9 139.9 L430.5 140.3 L432.1 140.7 L433.7 141.1 L435.3 141.4 L437 141.8 L438.6 142.2 L440.3 142.6 L442 143 L443.7 143.4 L445.4 143.7 L447.2 144.1 L448.9 144.5 L450.7 144.9 L452.4 145.3 L454.2 145.7 L456.1 146.1 L457.9 146.5 L459.7 146.9 L461.6 147.3" stroke="#00ff00" stroke-width="2.6"/>
<path d="M269.8 222.1 L269.9 219.6 L270 217.2 L270.1 214.7 L270.3 212.3 L270.4 210 L270.5 207.6 L270.6 205.3 L270.7 203.1 L270.9 200.8 L271 198.6 L271.1 196.4 L271.2 194.3 L271.4 192.2 L271.5 190.1 L271.6 188 L271.7 186 L271.9 184 L272 182 L272.1 180 L272.3 178.1 L272.4 176.2 L272.5 174.4 L272.7 172.5 L272.8 170.7 L273 168.9 L273.1 167.1 L273.3 165.4 L273.4 163.7 L273.5 162 L273.7 160.3 L273.8 158.7 L274 157.1 L274.1 155.5 L274.3 153.9 L274.5 152.3 L274.6 150.8 L274.8 149.3 L274.9 147.8 L275.1 146.3 L275.2 144.9 L275.4 143.5 L275.6 142 L275.7 140.7 L275.9 139.3 L276.1 137.9 L276.3 136.6 L276.4 135.3 L276.6 134 L276.8 132.8 L277 131.5 L277.1 130.3 L277.3 129.1 L277.5 127.9 L277.7 126.7 L277.9 125.5 L278.1 124.4 L278.2 123.2 L278.4 122.1 L278.6 121 L278.8 120 L279 118.9 L279.2 117.8 L279.4 116.8 L279.6 115.8 L279.8 114.8 L280 113.8 L280.2 112.8 L280.5 111.9 L280.7 111 L280.9 110 L281.1 109.1 L281.3 108.2 L281.5 107.3 L281.8 106.5 L282 105.6 L282.2 104.8 L282.4 103.9 L282.7 103.1 L282.9 102.3 L283.1 101.5 L283.4 100.8 L283.6 100 L283.8 99.2 L284.1 98.5 L284.3 97.8 L284.6 97.1 L284.8 96.4 L285.1 95.7 L285.3 95 L285.6 94.3 L285.8 93.7 L286.1 93 L286.4 92.4 L286.6 91.8 L286.9 91.2 L287.2 90.6 L287.5 90 L287.7 89.4 L288 88.8 L288.3 88.3 L288.6 87.7 L288.9 87.2 L289.1 86.7 L289.4 86.1 L289.7 85.6 L290 85.1 L290.3 84.6 L290.6 84.2 L290.9 83.7 L291.3 83.2 L291.6 82.8 L291.9 82.4 L292.2 81.9 L292.5 81.5 L292.8 81.1 L293.2 80.7 L293.5 80.3 L293.8 79.9 L294.2 79.5 L294.5 79.2 L294.8 78.8 L295.2 78.5 L295.5 78.1 L295.9 77.8 L296.2 77.5 L296.6 77.1 L297 76.8 L297.3 76.5 L297.7 76.2 L298.1 76 L298.4 75.7 L298.8 75.4 L299.2 75.1 L299.6 74.9 L300 74.6 L300.4 74.4 L300.7 74.2 L301.1 74 L301.5 73.7 L302 73.5 L302.4 73.3 L302.8 73.1 L303.2 72.9 L303.6 72.8 L304 72.6 L304.5 72.4 L304.9 72.3 L305.3 72.1 L305.8 72 L306.2 71.8 L306.7 71.7 L307.1 71.6 L307.6 71.5 L308.1 71.4 L308.5 71.3 L309 71.2 L309.5 71.1 L309.9 71 L310.4 70.9 L310.9 70.8 L311.4 70.8 L311.9 70.7 L312.4 70.7 L312.9 70.6 L313.4 70.6 L313.9 70.5 L314.5 70.5 L315 70.5 L315.5 70.5 L316.1 70.5 L316.6 70.4 L317.1 70.4 L317.7 70.5 L318.2 70.5 L318.8 70.5 L319.4 70.5 L319.9 70.5 L320.5 70.6 L321.1 70.6 L321.7 70.7 L322.3 70.7 L322.9 70.8 L323.5 70.8 L324.1 70.9 L324.7 71 L325.3 71.1 L325.9 71.1 L326.6 71.2 L327.2 71.3 L327.9 71.4 L328.5 71.5 L329.2 71.6 L329.8 71.8 L330.5 71.9 L331.2 72 L331.8 72.1 L332.5 72.3 L333.2 72.4 L333.9 72.5 L334.6 72.7 L335.3 72.8 L336 73 L336.8 73.2 L337.5 73.3 L338.2 73.5 L339 73.7 L339.7 73.9 L340.5 74 L341.3 74.2 L342 74.4 L342.8 74.6 L343.6 74.8 L344.4 75 L345.2 75.2 L346 75.5 L346.8 75.7 L347.6 75.9 L348.5 76.1 L349.3 76.4 L350.2 76.6 L351 76.8 L351.9 77.1 L352.8 77.3 L353.6 77.6 L354.5 77.8 L355.4 78.1 L356.3 78.3 L357.2 78.6 L358.1 78.9 L359.1 79.1 L360 79.4 L361 79.7 L361.9 80 L362.9 80.3 L363.8 80.6 L364.8 80.9 L365.8 81.1 L366.8 81.4 L367.8 81.8 L368.8 82.1 L369.9 82.4 L370.9 82.7 L372 83 L373 83.3 L374.1 83.6 L375.2 84 L376.2 84.3 L377.3 84.6 L378.4 85 L379.6 85.3 L380.7 85.6 L381.8 86 L383 86.3 L384.1 86.7 L385.3 87 L386.5 87.4 L387.7 87.7 L388.9 88.1 L390.1 88.4 L391.3 88.8 L392.5 89.2 L393.8 89.5 L395 89.9 L396.3 90.3 L397.6 90.7 L398.9 91 L400.2 91.4 L401.5 91.8 L402.8 92.2 L404.2 92.6 L405.5 93 L406.9 93.4 L408.3 93.7 L409.6 94.1 L411 94.5 L412.5 94.9 L413.9 95.3 L415.3 95.8 L416.8 96.2 L418.3 96.6 L419.7 97 L421.2 97.4 L422.7 97.8 L424.3 98.2 L425.8 98.6 L427.4 99.1 L428.9 99.5 L430.5 99.9 L432.1 100.3 L433.7 100.8 L435.3 101.2 L437 101.6 L438.6 102 L440.3 102.5 L442 102.9 L443.7 103.3 L445.4 103.8 L447.2 104.2 L448.9 104.7 L450.7 105.1 L452.4 105.6 L454.2 106 L456.1 106.4 L457.9 106.9 L459.7 107.3 L461.6 107.8" stroke="#00ff00" stroke-width="2.9" stroke-dasharray="4.5 1.2"/>
<path d="M261.6 96.8 L261.6 94 L261.6 91.3 L261.6 88.7 L261.7 86.2 L261.7 83.7 L261.7 81.3 L261.7 79 L261.8 76.8 L261.8 74.7 L261.8 72.6 L261.9 70.5 L261.9 68.6 L261.9 66.7 L261.9 64.9 L262 63.1 L262 61.4 L262 59.7 L262.1 58.1 L262.1 56.6 L262.1 55.1 L262.2 53.6 L262.2 52.2 L262.2 50.8 L262.3 49.5 L262.3 48.3 L262.3 47 L262.4 45.8 L262.4 44.7 L262.4 43.6 L262.5 42.5 L262.5 41.5 L262.5 40.5 L262.6 39.5 L262.6 38.5 L262.6 37.6 L262.7 36.8 L262.7 35.9 L262.7 35.1 L262.8 34.3 L262.8 33.5 L262.9 32.8 L262.9 32.1 L262.9 31.4 L263 30.7 L263 30.1 L263 29.4 L263.1 28.8 L263.1 28.3 L263.2 27.7 L263.2 27.2 L263.2 26.7 L263.3 26.2 L263.3 25.7 L263.4 25.2 L263.4 24.8 L263.5 24.3 L263.5 23.9 L263.5 23.5 L263.6 23.1 L263.6 22.8 L263.7 22.4 L263.7 22.1 L263.8 21.7 L263.8 21.4 L263.8 21.1 L263.9 20.8 L263.9 20.5 L264 20.3 L264 20 L264.1 19.8 L264.1 19.5 L264.2 19.3 L264.2 19.1 L264.3 18.9 L264.3 18.7 L264.4 18.5 L264.4 18.3 L264.5 18.2 L264.5 18 L264.6 17.9 L264.6 17.7 L264.7 17.6 L264.7 17.4 L264.8 17.3 L264.8 17.2 L264.9 17.1 L264.9 17 L265 16.9 L265 16.8 L265.1 16.7 L265.2 16.7 L265.2 16.6 L265.3 16.5 L265.3 16.5 L265.4 16.4 L265.4 16.4 L265.5 16.4 L265.6 16.3 L265.6 16.3 L265.7 16.3 L265.7 16.2 L265.8 16.2 L265.9 16.2 L265.9 16.2 L266 16.2 L266 16.2 L266.1 16.2 L266.1 16.2 L266.1 16.3 L266.2 16.3 L266.2 16.3 L266.3 16.3 L266.3 16.4 L266.4 16.4 L266.4 16.5 L266.5 16.5 L266.5 16.5 L266.6 16.6 L266.6 16.7 L266.7 16.7 L266.7 16.8 L266.8 16.8 L266.9 16.9 L266.9 17 L267 17.1 L267 17.1 L267.1 17.2 L267.1 17.3 L267.2 17.4 L267.3 17.5 L267.3 17.6 L267.4 17.7 L267.4 17.8 L267.5 17.9 L267.6 18 L267.6 18.1 L267.7 18.2 L267.7 18.3 L267.8 18.4 L267.9 18.6 L267.9 18.7 L268 18.8 L268.1 18.9 L268.1 19.1 L268.2 19.2 L268.3 19.3 L268.4 19.5 L268.5 19.6 L268.6 19.8 L268.7 19.9 L268.8 20.1 L268.8 20.2 L268.9 20.4 L269 20.5 L269.1 20.7 L269.2 20.9 L269.3 21 L269.4 21.2 L269.5 21.4 L269.6 21.5 L269.7 21.7 L269.8 21.9 L269.9 22.1 L270 22.2 L270.1 22.4 L270.2 22.6 L270.3 22.8 L270.4 23 L270.5 23.2 L270.6 23.4 L270.7 23.5 L270.8 23.7 L270.9 23.9 L271 24.1 L271.1 24.3 L271.3 24.5 L271.4 24.8 L271.5 25 L271.6 25.2 L271.7 25.4 L271.8 25.6 L271.9 25.8 L272 26 L272.2 26.3 L272.3 26.5 L272.4 26.7 L272.5 27 L272.6 27.2 L272.8 27.4 L272.9 27.7 L273 27.9 L273.1 28.1 L273.3 28.4 L273.4 28.6 L273.5 28.9 L273.6 29.1 L273.8 29.4 L273.9 29.6 L274 29.9 L274.2 30.1 L274.3 30.4 L274.4 30.7 L274.6 30.9 L274.7 31.2 L274.9 31.5 L275 31.7 L275.1 32 L275.3 32.3 L275.4 32.6 L275.6 32.8 L275.7 33.1 L275.9 33.4 L276 33.7 L276.2 34 L276.3 34.3 L276.5 34.6 L276.6 34.9 L276.8 35.2 L276.9 35.5 L277.1 35.8 L277.2 36.1 L277.4 36.4 L277.6 36.7 L277.7 37 L277.9 37.3 L278 37.6 L278.2 37.9 L278.4 38.2 L278.5 38.5 L278.7 38.9 L278.9 39.2 L279.1 39.5 L279.2 39.8 L279.4 40.1 L279.6 40.5 L279.8 40.8 L279.9 41.1 L280.1 41.5 L280.3 41.8 L280.5 42.1 L280.7 42.5 L280.9 42.8 L281 43.2 L281.2 43.5 L281.4 43.9 L281.6 44.2 L281.8 44.5 L282 44.9 L282.2 45.3 L282.4 45.6 L282.6 46 L282.8 46.3 L283 46.7 L283.2 47 L283.4 47.4 L283.6 47.8 L283.8 48.1 L284.1 48.5 L284.3 48.9 L284.5 49.2 L284.7 49.6 L284.9 50 L285.1 50.3 L285.4 50.7 L285.6 51.1 L285.8 51.5 L286 51.9 L286.3 52.2 L286.5 52.6 L286.7 53 L287 53.4 L287.2 53.8 L287.5 54.2 L287.7 54.5 L287.9 54.9 L288.2 55.3 L288.4 55.7 L288.7 56.1 L288.9 56.5 L289.2 56.9 L289.4 57.3 L289.7 57.7 L290 58.1 L290.2 58.5 L290.5 58.9 L290.7 59.3 L291 59.8 L291.3 60.2 L291.6 60.6 L291.8 61 L292.1 61.4 L292.4 61.9 L292.7 62.3 L292.9 62.7 L293.2 63.1 L293.5 63.6 L293.8 64 L294.1 64.4 L294.4 64.8 L294.7 65.3 L295 65.7 L295.3 66.1 L295.6 66.6 L295.9 67 L296.2 67.4 L296.5 67.9 L296.8 68.3 L297.2 68.8 L297.5 69.2 L297.8 69.6 L298.1 70.1 L298.5 70.5 L298.8 71 L299.1 71.4 L299.5 71.9 L299.8 72.3 L300.1 72.8 L300.5 73.2 L300.8 73.7 L301.2 74.1 L301.5 74.6 L301.9 75 L302.2 75.5 L302.6 75.9 L303 76.4 L303.3 76.8 L303.7 77.3 L304.1 77.7 L304.4 78.2 L304.8 78.6 L305.2 79.1 L305.6 79.6 L306 80 L306.4 80.5 L306.8 80.9 L307.2 81.4 L307.6 81.9 L308 82.3 L308.4 82.8 L308.8 83.3 L309.2 83.7 L309.6 84.2 L310 84.7 L310.4 85.1 L310.9 85.6 L311.3 86.1 L311.7 86.5 L312.2 87 L312.6 87.5 L313.1 87.9 L313.5 88.4 L314 88.9 L314.4 89.3 L314.9 89.8 L315.3 90.3 L315.8 90.8 L316.3 91.2 L316.7 91.7 L317.2 92.2 L317.7 92.7 L318.2 93.1 L318.7 93.6 L319.2 94.1 L319.7 94.6 L320.2 95 L320.7 95.5 L321.2 96 L321.7 96.5 L322.2 97 L322.7 97.4 L323.2 97.9 L323.8 98.4 L324.3 98.9 L324.8 99.4 L325.4 99.8 L325.9 100.3 L326.5 100.8 L327 101.3 L327.6 101.8 L328.2 102.3 L328.7 102.7 L329.3 103.2 L329.9 103.7 L330.5 104.2 L331.1 104.7 L331.7 105.1 L332.3 105.6 L332.9 106.1 L333.5 106.5 L334.1 107 L334.7 107.5 L335.3 108 L335.9 108.4 L336.6 108.9 L337.2 109.4 L337.8 109.9 L338.5 110.3 L339.1 110.8 L339.8 111.3 L340.5 111.8 L341.1 112.2 L341.8 112.7 L342.5 113.2 L343.2 113.7 L343.9 114.1 L344.6 114.6 L345.3 115.1 L346 115.6 L346.7 116.2 L347.4 116.7 L348.1 117.3 L348.9 117.8 L349.6 118.3 L350.3 118.9 L351.1 119.4 L351.8 120 L352.6 120.5 L353.4 121 L354.1 121.6 L354.9 122.1 L355.7 122.7 L356.5 123.2 L357.3 123.8 L358.1 124.3 L358.9 124.8 L359.7 125.4 L360.5 125.9 L361.4 126.5 L362.2 127 L363 127.5 L363.9 128 L364.8 128.5 L365.6 129 L366.5 129.5 L367.4 129.9 L368.3 130.4 L369.1 130.9 L370 131.4 L370.9 131.9 L371.9 132.4 L372.8 132.9 L373.7 133.4 L374.6 133.8 L375.6 134.3 L376.5 134.8 L377.5 135.3 L378.5 135.8 L379.4 136.2 L380.4 136.7 L381.4 137.2 L382.4 137.7 L383.4 138.2 L384.4 138.6 L385.5 139.1 L386.5 139.6 L387.5 140.1 L388.6 140.5 L389.6 141 L390.7 141.5 L391.8 142 L392.8 142.4 L393.9 142.9 L395 143.4 L396.1 143.9 L397.3 144.3 L398.4 144.8 L399.5 145.3 L400.7 145.8 L401.8 146.2 L403 146.7 L404.2 147.2 L405.3 147.6 L406.5 148.1 L407.7 148.6 L408.9 149.1 L410.2 149.5 L411.4 150 L412.6 150.5 L413.9 151 L415.1 151.5 L416.4 152.1 L417.7 152.7 L419 153.3 L420.3 153.9 L421.6 154.5 L422.9 155.1 L424.2 155.7 L425.6 156.3 L426.9 156.9 L428.3 157.5 L429.7 158.1 L431.1 158.7 L432.5 159.3 L433.9 159.9 L435.3 160.5 L436.7 161.1 L438.2 161.7 L439.6 162.3 L441.1 162.9" stroke="#ff0000" stroke-width="2.6" stroke-dasharray="4.2 1.3"/>
<path d="M261.1 97 L261.2 95.3 L261.2 93.5 L261.2 91.9 L261.3 90.2 L261.3 88.6 L261.3 87 L261.3 85.4 L261.4 83.8 L261.4 82.3 L261.4 80.8 L261.5 79.4 L261.5 77.9 L261.5 76.5 L261.6 75.1 L261.6 73.7 L261.6 72.4 L261.7 71.1 L261.7 69.8 L261.7 68.5 L261.8 67.3 L261.8 66 L261.8 64.8 L261.9 63.6 L261.9 62.5 L261.9 61.3 L262 60.2 L262 59.1 L262 58 L262.1 56.9 L262.1 55.9 L262.1 54.9 L262.2 53.9 L262.2 52.9 L262.3 51.9 L262.3 51 L262.3 50 L262.4 49.1 L262.4 48.2 L262.4 47.3 L262.5 46.5 L262.5 45.6 L262.6 44.8 L262.6 44 L262.6 43.2 L262.7 42.4 L262.7 41.6 L262.8 40.9 L262.8 40.1 L262.9 39.4 L262.9 38.7 L262.9 38 L263 37.3 L263 36.6 L263.1 36 L263.1 35.4 L263.2 34.7 L263.2 34.1 L263.2 33.5 L263.3 32.9 L263.3 32.3 L263.4 31.8 L263.4 31.2 L263.5 30.7 L263.5 30.2 L263.6 29.6 L263.6 29.1 L263.7 28.7 L263.7 28.2 L263.8 27.7 L263.8 27.2 L263.9 26.8 L263.9 26.4 L264 25.9 L264 25.5 L264.1 25.1 L264.1 24.7 L264.2 24.3 L264.2 23.9 L264.3 23.6 L264.3 23.2 L264.4 22.9 L264.4 22.5 L264.5 22.2 L264.5 21.9 L264.6 21.6 L264.7 21.3 L264.7 21 L264.8 20.7 L264.8 20.4 L264.9 20.2 L264.9 19.9 L265 19.7 L265.1 19.4 L265.1 19.2 L265.2 19 L265.2 18.7 L265.3 18.5 L265.4 18.3 L265.4 18.1 L265.5 17.9 L265.6 17.8 L265.6 17.6 L265.7 17.4 L265.7 17.3 L265.8 17.1 L265.9 17 L265.9 16.8 L266 16.7 L266.1 16.6 L266.1 16.5 L266.2 16.4 L266.3 16.3 L266.4 16.2 L266.4 16.1 L266.5 16 L266.6 15.9 L266.6 15.8 L266.7 15.8 L266.8 15.7 L266.9 15.7 L266.9 15.6 L267 15.6 L267.1 15.6 L267.1 15.5 L267.2 15.5 L267.3 15.5 L267.4 15.5 L267.5 15.5 L267.5 15.5 L267.6 15.5 L267.7 15.5 L267.8 15.5 L267.9 15.5 L267.9 15.5 L268 15.6 L268.1 15.6 L268.2 15.7 L268.3 15.7 L268.4 15.8 L268.4 15.8 L268.5 15.9 L268.6 15.9 L268.7 16 L268.8 16.1 L268.9 16.2 L269 16.2 L269.1 16.3 L269.2 16.4 L269.2 16.5 L269.3 16.6 L269.4 16.7 L269.5 16.9 L269.6 17 L269.7 17.1 L269.8 17.2 L269.9 17.3 L270 17.5 L270.1 17.6 L270.2 17.7 L270.3 17.9 L270.4 18 L270.5 18.2 L270.6 18.3 L270.7 18.5 L270.8 18.6 L270.9 18.8 L271 19 L271.1 19.1 L271.2 19.3 L271.4 19.5 L271.5 19.6 L271.6 19.8 L271.7 20 L271.8 20.2 L271.9 20.4 L272 20.6 L272.1 20.8 L272.2 21 L272.4 21.2 L272.5 21.4 L272.6 21.6 L272.7 21.8 L272.8 22.1 L273 22.3 L273.1 22.5 L273.2 22.7 L273.3 23 L273.5 23.2 L273.6 23.4 L273.7 23.7 L273.8 23.9 L274 24.2 L274.1 24.4 L274.2 24.7 L274.4 24.9 L274.5 25.2 L274.6 25.4 L274.8 25.7 L274.9 26 L275 26.2 L275.2 26.5 L275.3 26.8 L275.5 27 L275.6 27.3 L275.7 27.6 L275.9 27.9 L276 28.2 L276.2 28.4 L276.3 28.7 L276.5 29 L276.6 29.3 L276.8 29.6 L276.9 29.9 L277.1 30.2 L277.2 30.5 L277.4 30.8 L277.5 31.1 L277.7 31.4 L277.9 31.7 L278 32 L278.2 32.4 L278.3 32.7 L278.5 33 L278.7 33.3 L278.8 33.6 L279 34 L279.2 34.3 L279.3 34.6 L279.5 34.9 L279.7 35.3 L279.9 35.6 L280 35.9 L280.2 36.3 L280.4 36.6 L280.6 36.9 L280.8 37.3 L281 37.6 L281.1 38 L281.3 38.3 L281.5 38.7 L281.7 39 L281.9 39.4 L282.1 39.7 L282.3 40.1 L282.5 40.4 L282.7 40.8 L282.9 41.1 L283.1 41.5 L283.3 41.8 L283.5 42.2 L283.7 42.6 L283.9 42.9 L284.1 43.3 L284.3 43.7 L284.5 44 L284.7 44.4 L284.9 44.8 L285.2 45.1 L285.4 45.5 L285.6 45.9 L285.8 46.3 L286 46.6 L286.3 47 L286.5 47.4 L286.7 47.8 L287 48.2 L287.2 48.5 L287.4 48.9 L287.7 49.3 L287.9 49.7 L288.1 50.1 L288.4 50.5 L288.6 50.8 L288.9 51.2 L289.1 51.6 L289.4 52 L289.6 52.4 L289.9 52.8 L290.1 53.2 L290.4 53.6 L290.6 54 L290.9 54.4 L291.2 54.8 L291.4 55.2 L291.7 55.6 L292 56 L292.2 56.4 L292.5 56.8 L292.8 57.2 L293.1 57.6 L293.3 58 L293.6 58.4 L293.9 58.8 L294.2 59.2 L294.5 59.6 L294.8 60 L295.1 60.4 L295.4 60.8 L295.7 61.2 L296 61.6 L296.3 62 L296.6 62.4 L296.9 62.8 L297.2 63.2 L297.5 63.6 L297.8 64 L298.2 64.5 L298.5 64.9 L298.8 65.3 L299.1 65.7 L299.4 66.1 L299.8 66.5 L300.1 66.9 L300.4 67.4 L300.8 67.8 L301.1 68.2 L301.5 68.7 L301.8 69.1 L302.2 69.5 L302.5 70 L302.9 70.4 L303.2 70.8 L303.6 71.3 L304 71.7 L304.3 72.2 L304.7 72.6 L305.1 73 L305.4 73.5 L305.8 73.9 L306.2 74.3 L306.6 74.8 L307 75.2 L307.4 75.7 L307.8 76.1 L308.2 76.6 L308.6 77 L309 77.4 L309.4 77.9 L309.8 78.3 L310.2 78.8 L310.6 79.2 L311 79.7 L311.4 80.1 L311.9 80.5 L312.3 81 L312.7 81.4 L313.2 81.9 L313.6 82.3 L314 82.8 L314.5 83.2 L314.9 83.7 L315.4 84.1 L315.9 84.6 L316.3 85 L316.8 85.5 L317.2 85.9 L317.7 86.4 L318.2 86.8 L318.7 87.3 L319.2 87.7 L319.6 88.2 L320.1 88.6 L320.6 89.1 L321.1 89.5 L321.6 90 L322.1 90.4 L322.6 90.9 L323.2 91.3 L323.7 91.8 L324.2 92.2 L324.7 92.7 L325.2 93.1 L325.8 93.6 L326.3 94 L326.9 94.5 L327.4 94.9 L328 95.4 L328.5 95.8 L329.1 96.3 L329.6 96.7 L330.2 97.2 L330.8 97.6 L331.4 98.1 L331.9 98.6 L332.5 99 L333.1 99.5 L333.7 99.9 L334.3 100.4 L334.9 100.8 L335.5 101.3 L336.2 101.7 L336.8 102.2 L337.4 102.7 L338 103.1 L338.7 103.6 L339.3 104 L340 104.5 L340.6 104.9 L341.3 105.4 L341.9 105.8 L342.6 106.3 L343.3 106.8 L343.9 107.2 L344.6 107.7 L345.3 108.1 L346 108.6 L346.7 109 L347.4 109.5 L348.1 110 L348.8 110.4 L349.5 110.9 L350.3 111.3 L351 111.8 L351.7 112.2 L352.5 112.7 L353.2 113.2 L354 113.6 L354.8 114.1 L355.5 114.5 L356.3 115 L357.1 115.5 L357.9 115.9 L358.6 116.4 L359.4 116.8 L360.3 117.3 L361.1 117.7 L361.9 118.2 L362.7 118.7 L363.5 119.2 L364.4 119.7 L365.2 120.2 L366.1 120.7 L366.9 121.2 L367.8 121.6 L368.7 122.1 L369.5 122.6 L370.4 123.1 L371.3 123.6 L372.2 124.1 L373.1 124.6 L374 125.1 L374.9 125.6 L375.9 126.1 L376.8 126.6 L377.7 127 L378.7 127.5 L379.6 128 L380.6 128.4 L381.6 128.9 L382.6 129.4 L383.5 129.9 L384.5 130.3 L385.5 130.8 L386.6 131.3 L387.6 131.7 L388.6 132.2 L389.6 132.7 L390.7 133.1 L391.7 133.6 L392.8 134.1 L393.8 134.5 L394.9 135 L396 135.5 L397.1 135.9 L398.2 136.4 L399.3 136.9 L400.4 137.3 L401.6 137.8 L402.7 138.3 L403.8 138.8 L405 139.2 L406.2 139.7 L407.3 140.2 L408.5 140.6 L409.7 141.1 L410.9 141.6 L412.1 142 L413.3 142.5 L414.6 143 L415.8 143.6 L417.1 144.1 L418.3 144.7 L419.6 145.2 L420.9 145.8 L422.2 146.3 L423.5 146.9 L424.8 147.4 L426.1 148 L427.4 148.5 L428.7 149.1 L430.1 149.7 L431.5 150.2 L432.8 150.8 L434.2 151.3 L435.6 151.9 L437 152.5 L438.4 153 L439.9 153.6 L441.3 154.1" stroke="#ff0000" stroke-width="2.6"/>
<path d="M267.5 222.7 L267.5 220.4 L267.6 218.1 L267.7 215.9 L267.8 213.7 L267.9 211.5 L268 209.4 L268.1 207.3 L268.2 205.2 L268.3 203.2 L268.4 201.2 L268.5 199.2 L268.6 197.3 L268.7 195.4 L268.8 193.6 L268.9 191.7 L269 189.9 L269.1 188.1 L269.2 186.4 L269.3 184.7 L269.5 183 L269.6 181.3 L269.7 179.7 L269.8 178.1 L269.9 176.5 L270 174.9 L270.1 173.4 L270.3 171.9 L270.4 170.4 L270.5 169 L270.6 167.5 L270.7 166.1 L270.9 164.7 L271 163.4 L271.1 162 L271.2 160.7 L271.4 159.4 L271.5 158.1 L271.6 156.9 L271.7 155.7 L271.9 154.5 L272 153.3 L272.1 152.1 L272.3 150.9 L272.4 149.8 L272.5 148.7 L272.7 147.6 L272.8 146.5 L273 145.5 L273.1 144.5 L273.3 143.4 L273.4 142.4 L273.5 141.5 L273.7 140.5 L273.8 139.6 L274 138.6 L274.1 137.7 L274.3 136.8 L274.5 135.9 L274.6 135.1 L274.8 134.2 L274.9 133.4 L275.1 132.6 L275.2 131.8 L275.4 131 L275.6 130.2 L275.7 129.5 L275.9 128.7 L276.1 128 L276.3 127.3 L276.4 126.6 L276.6 125.9 L276.8 125.2 L277 124.5 L277.1 123.9 L277.3 123.3 L277.5 122.6 L277.7 122 L277.9 121.4 L278.1 120.8 L278.2 120.3 L278.4 119.7 L278.6 119.2 L278.8 118.6 L279 118.1 L279.2 117.6 L279.4 117.1 L279.6 116.6 L279.8 116.1 L280 115.6 L280.2 115.2 L280.5 114.7 L280.7 114.3 L280.9 113.8 L281.1 113.4 L281.3 113 L281.5 112.6 L281.8 112.2 L282 111.9 L282.2 111.5 L282.4 111.1 L282.7 110.8 L282.9 110.4 L283.1 110.1 L283.4 109.8 L283.6 109.5 L283.8 109.2 L284.1 108.9 L284.3 108.6 L284.6 108.3 L284.8 108 L285.1 107.8 L285.3 107.5 L285.6 107.3 L285.8 107 L286.1 106.8 L286.4 106.6 L286.6 106.4 L286.9 106.2 L287.2 106 L287.5 105.8 L287.7 105.6 L288 105.4 L288.3 105.2 L288.6 105.1 L288.9 104.9 L289.1 104.8 L289.4 104.7 L289.7 104.5 L290 104.4 L290.3 104.3 L290.6 104.2 L290.9 104.1 L291.3 104 L291.6 103.9 L291.9 103.8 L292.2 103.7 L292.5 103.6 L292.8 103.6 L293.2 103.5 L293.5 103.5 L293.8 103.4 L294.2 103.4 L294.5 103.4 L294.8 103.3 L295.2 103.3 L295.5 103.3 L295.9 103.3 L296.2 103.3 L296.6 103.3 L297 103.3 L297.3 103.3 L297.7 103.3 L298.1 103.4 L298.4 103.4 L298.8 103.4 L299.2 103.5 L299.6 103.5 L300 103.6 L300.4 103.6 L300.7 103.7 L301.1 103.8 L301.5 103.8 L302 103.9 L302.4 104 L302.8 104.1 L303.2 104.2 L303.6 104.3 L304 104.4 L304.5 104.5 L304.9 104.6 L305.3 104.7 L305.8 104.9 L306.2 105 L306.7 105.1 L307.1 105.2 L307.6 105.4 L308.1 105.5 L308.5 105.7 L309 105.8 L309.5 106 L309.9 106.2 L310.4 106.3 L310.9 106.5 L311.4 106.7 L311.9 106.9 L312.4 107 L312.9 107.2 L313.4 107.4 L313.9 107.6 L314.5 107.8 L315 108 L315.5 108.2 L316.1 108.4 L316.6 108.6 L317.1 108.9 L317.7 109.1 L318.2 109.3 L318.8 109.5 L319.4 109.8 L319.9 110 L320.5 110.2 L321.1 110.5 L321.7 110.7 L322.3 111 L322.9 111.2 L323.5 111.5 L324.1 111.7 L324.7 112 L325.3 112.3 L325.9 112.5 L326.6 112.8 L327.2 113.1 L327.9 113.4 L328.5 113.6 L329.2 113.9 L329.8 114.2 L330.5 114.5 L331.2 114.8 L331.8 115.1 L332.5 115.4 L333.2 115.7 L333.9 116 L334.6 116.3 L335.3 116.6 L336 116.9 L336.8 117.2 L337.5 117.5 L338.2 117.9 L339 118.2 L339.7 118.5 L340.5 118.8 L341.3 119.2 L342 119.5 L342.8 119.8 L343.6 120.2 L344.4 120.5 L345.2 120.8 L346 121.2 L346.8 121.5 L347.6 121.9 L348.5 122.2 L349.3 122.6 L350.2 122.9 L351 123.3 L351.9 123.6 L352.8 124 L353.6 124.3 L354.5 124.7 L355.4 125.1 L356.3 125.4 L357.2 125.8 L358.1 126.2 L359.1 126.5 L360 126.9 L361 127.3 L361.9 127.7 L362.9 128 L363.8 128.4 L364.8 128.8 L365.8 129.2 L366.8 129.6 L367.8 130 L368.8 130.3 L369.9 130.7 L370.9 131.1 L372 131.5 L373 131.9 L374.1 132.3 L375.2 132.7 L376.2 133.1 L377.3 133.5 L378.4 133.9 L379.6 134.3 L380.7 134.7 L381.8 135.1 L383 135.5 L384.1 135.9 L385.3 136.3 L386.5 136.7 L387.7 137.1 L388.9 137.5 L390.1 138 L391.3 138.4 L392.5 138.8 L393.8 139.2 L395 139.6 L396.3 140 L397.6 140.5 L398.9 140.9 L400.2 141.3 L401.5 141.7 L402.8 142.1 L404.2 142.6 L405.5 143 L406.9 143.4 L408.3 143.8 L409.6 144.3 L411 144.7 L412.5 145.1 L413.9 145.6 L415.3 146 L416.8 146.4 L418.3 146.8 L419.7 147.3 L421.2 147.7 L422.7 148.1 L424.3 148.6 L425.8 149 L427.4 149.5 L428.9 149.9 L430.5 150.3 L432.1 150.8 L433.7 151.2 L435.3 151.7 L437 152.1 L438.6 152.5 L440.3 153 L442 153.4 L443.7 153.9 L445.4 154.3 L447.2 154.8 L448.9 155.2 L450.7 155.7 L452.4 156.1 L454.2 156.5 L456.1 157 L457.9 157.4 L459.7 157.9 L461.6 158.3" stroke="#0000ff" stroke-width="2.6"/>
</g>
<path d="M257.5 219.1v-2.6M257.5 10.6v2.6M268 219.1v-1.5M268 10.6v1.5M278.4 219.1v-1.5M278.4 10.6v1.5M288.9 219.1v-1.5M288.9 10.6v1.5M299.4 219.1v-1.5M299.4 10.6v1.5M309.8 219.1v-2.6M309.8 10.6v2.6M320.3 219.1v-1.5M320.3 10.6v1.5M330.8 219.1v-1.5M330.8 10.6v1.5M341.2 219.1v-1.5M341.2 10.6v1.5M351.7 219.1v-1.5M351.7 10.6v1.5M362.2 219.1v-2.6M362.2 10.6v2.6M372.6 219.1v-1.5M372.6 10.6v1.5M383.1 219.1v-1.5M383.1 10.6v1.5M393.6 219.1v-1.5M393.6 10.6v1.5M404 219.1v-1.5M404 10.6v1.5M414.5 219.1v-2.6M414.5 10.6v2.6M425 219.1v-1.5M425 10.6v1.5M435.4 219.1v-1.5M435.4 10.6v1.5M445.9 219.1v-1.5M445.9 10.6v1.5M456.4 219.1v-1.5M456.4 10.6v1.5M466.8 219.1v-2.6M466.8 10.6v2.6M257.5 219.1h2.6M257.5 208.7h1.5M257.5 198.3h1.5M257.5 187.8h1.5M257.5 177.4h1.5M257.5 167h2.6M257.5 156.6h1.5M257.5 146.1h1.5M257.5 135.7h1.5M257.5 125.3h1.5M257.5 114.9h2.6M257.5 104.4h1.5M257.5 94h1.5M257.5 83.6h1.5M257.5 73.2h1.5M257.5 62.7h2.6M257.5 52.3h1.5M257.5 41.9h1.5M257.5 31.5h1.5M257.5 21h1.5M257.5 10.6h2.6" stroke="#7f7f7f" stroke-width="0.8" fill="none"/>
<path d="M470 10.6H257.5V219.1H470" fill="none" stroke="#7f7f7f" stroke-width="1"/>
<text x="257.5" y="231.6" text-anchor="middle" font-family="Liberation Sans, Arial, sans-serif" font-size="10.2" font-weight="bold" fill="#3d3d3d">0</text>
<text x="309.8" y="231.6" text-anchor="middle" font-family="Liberation Sans, Arial, sans-serif" font-size="10.2" font-weight="bold" fill="#3d3d3d">5</text>
<text x="362.2" y="231.6" text-anchor="middle" font-family="Liberation Sans, Arial, sans-serif" font-size="10.2" font-weight="bold" fill="#3d3d3d">10</text>
<text x="414.5" y="231.6" text-anchor="middle" font-family="Liberation Sans, Arial, sans-serif" font-size="10.2" font-weight="bold" fill="#3d3d3d">15</text>
<text x="255.4" y="222.9" text-anchor="end" font-family="Liberation Sans, Arial, sans-serif" font-size="10.2" font-weight="bold" fill="#3d3d3d">4</text>
<text x="255.4" y="170.8" text-anchor="end" font-family="Liberation Sans, Arial, sans-serif" font-size="10.2" font-weight="bold" fill="#3d3d3d">5</text>
<text x="255.4" y="118.7" text-anchor="end" font-family="Liberation Sans, Arial, sans-serif" font-size="10.2" font-weight="bold" fill="#3d3d3d">6</text>
<text x="255.4" y="66.5" text-anchor="end" font-family="Liberation Sans, Arial, sans-serif" font-size="10.2" font-weight="bold" fill="#3d3d3d">7</text>
<text x="255.4" y="14.4" text-anchor="end" font-family="Liberation Sans, Arial, sans-serif" font-size="10.2" font-weight="bold" fill="#3d3d3d">8</text>
<text x="362" y="247.6" text-anchor="middle" font-family="Liberation Sans, Arial, sans-serif" font-size="11" font-weight="bold" fill="#3d3d3d"><tspan font-style="italic">x</tspan><tspan font-style="italic" font-size="7.8" dy="1.6">E</tspan><tspan dy="-1.6">(mm)</tspan></text>
<text transform="translate(241,114.5) rotate(-90)" text-anchor="middle" font-family="Liberation Sans, Arial, sans-serif" font-size="11" font-weight="bold" fill="#3d3d3d">Log<tspan font-size="7.8" dy="1.6">10</tspan><tspan dy="-1.6">(dN</tspan><tspan font-size="7.8" dy="1.6">ph</tspan><tspan dy="-1.6">/dx(mm</tspan><tspan font-size="7.8" dy="-4">-1</tspan><tspan dy="4">))</tspan></text>
</svg>
</body></html>
